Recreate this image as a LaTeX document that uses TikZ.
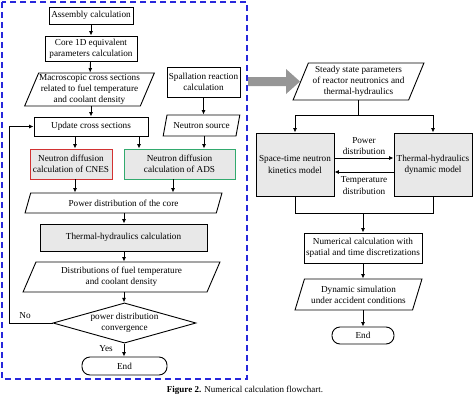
\documentclass[tikz,border=0pt]{standalone}
\usepackage{fontspec}
\setmainfont{Liberation Serif}
\usetikzlibrary{shapes.geometric,arrows.meta}
\definecolor{dblue}{RGB}{40,40,220}
\definecolor{bred}{RGB}{210,50,50}
\definecolor{bgreen}{RGB}{50,170,110}
\definecolor{lgray}{RGB}{232,232,232}
\definecolor{agray}{RGB}{150,150,150}
\tikzset{
  base/.style={draw, line width=0.9pt, align=center, inner sep=0.5pt},
  box/.style={base, rectangle},
  gbox/.style={base, rectangle, fill=lgray},
  para/.style={base, trapezium, trapezium left angle=66, trapezium right angle=114, trapezium stretches=true},
  dec/.style={base, diamond, aspect=3.5},
  term/.style={base, rectangle, rounded corners=8pt},
  arr/.style={line width=0.9pt, -{Latex[length=4.5pt,width=4pt]}},
  ln/.style={line width=0.9pt},
  lbl/.style={align=center, inner sep=0pt}
}
\begin{document}
\begin{tikzpicture}[x=1pt,y=-1pt,font=\fontsize{9.2}{11.2}\selectfont]
\useasboundingbox (0,0) rectangle (474,402);
% dashed frame
\draw[dblue, line width=2pt, dash pattern=on 6pt off 4pt] (2,2) rectangle (247,379);
% left column
\node[box, minimum width=84pt, minimum height=17pt] (asm) at (91,15.5) {Assembly calculation};
\node[box, minimum width=92pt, minimum height=25pt] (core) at (91,48.5) {Core 1D equivalent\\parameters calculation};
\node[para, minimum width=129pt, minimum height=33pt] (macro) at (89.5,89.5) {Macroscopic cross sections\\related to fuel temperature\\and coolant density};
\node[box, minimum width=114pt, minimum height=19pt] (upd) at (91,126.5) {Update cross sections};
\node[box, minimum width=73pt, minimum height=30pt] (spal) at (203.5,82) {Spallation reaction\\calculation};
\node[para, minimum width=77pt, minimum height=21pt] (nsrc) at (201.5,125.5) {Neutron source};
\node[gbox, draw=bred, minimum width=82pt, minimum height=30pt] (cnes) at (71,164) {Neutron diffusion\\calculation of CNES};
\node[gbox, draw=bgreen, minimum width=111pt, minimum height=30pt] (ads) at (179.5,164) {Neutron diffusion\\calculation of ADS};
\node[para, minimum width=197pt, minimum height=20pt] (pow) at (123.5,203) {Power distribution of the core};
\node[gbox, minimum width=167pt, minimum height=27pt] (th) at (123.5,237.5) {Thermal-hydraulics calculation};
\node[para, minimum width=197pt, minimum height=30pt] (dist) at (121.5,277) {Distributions of fuel temperature\\and coolant density};
\node[dec, minimum width=143pt, minimum height=40pt] (conv) at (124.5,323) {power distribution\\convergence};
\node[term, minimum width=85pt, minimum height=18pt] (end1) at (124.5,366) {End};
\node[lbl] (yes) at (106,349) {Yes};
\node[lbl] (no) at (25,316) {No};
% left connectors
\draw[arr] (asm) -- (core);
\draw[arr] (core) -- (macro);
\draw[arr] (macro.south -| upd.north) -- (upd);
\draw[arr] (spal) -- (spal.south |- nsrc.north);
\draw[arr] (upd.south -| 75,0) -- (cnes.north -| 75,0);
\draw[arr] (upd.south -| 139,0) -- (ads.north -| 139,0);
\draw[arr] (nsrc.south -| 204,0) -- (ads.north -| 204,0);
\draw[arr] (cnes.south -| 75,0) -- (pow.north -| 75,0);
\draw[arr] (ads.south -| 173,0) -- (pow.north -| 173,0);
\draw[arr] (pow.south -| 124,0) -- (th.north -| 124,0);
\draw[arr] (th.south -| 124,0) -- (dist.north -| 124,0);
\draw[arr] (dist.south -| 124,0) -- (conv.north -| 124,0);
\draw[arr] (conv.south -| 124,0) -- (end1.north -| 124,0);
\draw[arr] (conv.west) -- ++(-43,0) |- (upd.west);
% big gray arrow
\fill[agray] (248,77) -- (286,77) -- (286,69) -- (300,81.5) -- (286,94) -- (286,86) -- (248,86) -- cycle;
% right column
\node[para, minimum width=131pt, minimum height=37pt] (steady) at (358.5,81.5) {Steady state parameters\\of reactor neutronics and\\thermal-hydraulics};
\node[gbox, minimum width=78pt, minimum height=63pt] (stn) at (295,164.5) {Space-time neutron\\kinetics model};
\node[gbox, minimum width=78pt, minimum height=63pt] (thd) at (433,164.5) {Thermal-hydraulics\\dynamic model};
\node[box, minimum width=118pt, minimum height=30pt] (num) at (363,248) {Numerical calculation with\\spatial and time discretizations};
\node[para, minimum width=127pt, minimum height=31pt] (dyn) at (358.5,294.5) {Dynamic simulation\\under accident conditions};
\node[term, minimum width=62pt, minimum height=17pt] (end2) at (363,335.5) {End};
\node[lbl] (pd) at (364,146) {Power\\distribution};
\node[lbl] (td) at (364,185.5) {Temperature\\distribution};
% right connectors
\draw[arr] (steady.south) -- ++(0,15) -| (stn.north);
\draw[arr] (steady.south) -- ++(0,15) -| (thd.north);
\draw[arr] (stn.east |- 0,158) -- (thd.west |- 0,158);
\draw[arr] (thd.west |- 0,172) -- (stn.east |- 0,172);
\draw[ln] (stn.south) -- ++(0,17) -| (thd.south);
\draw[arr] (num.north |- 0,213) -- (num.north);
\draw[arr] (num.south) -- (num.south |- dyn.north);
\draw[arr] (dyn.south -| end2.north) -- (end2.north);
% caption
\node[lbl, font=\fontsize{9}{11}\selectfont] (cap) at (245,390) {\textbf{Figure 2.} Numerical calculation flowchart.};
\end{tikzpicture}
\end{document}
